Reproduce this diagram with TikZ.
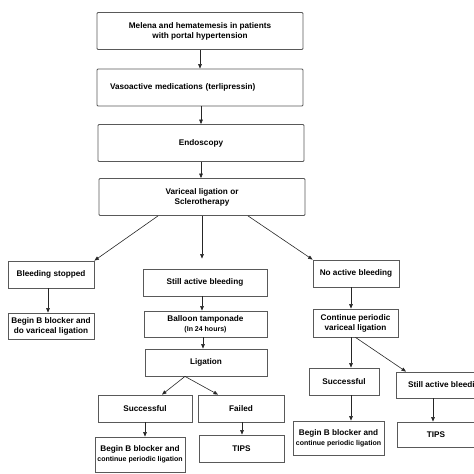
\documentclass[tikz,border=0pt]{standalone}
\usepackage{fontspec}
\setmainfont{Liberation Sans}
\usepackage{tikz}
\usetikzlibrary{arrows.meta}
\tikzset{
	MyBox/.style={draw=black!65,line width=0.8pt,rectangle,align=center,
    inner sep=1pt,font=\fontsize{8.2}{10}\selectfont\bfseries},
	MyBig/.style={MyBox,minimum width=206pt,minimum height=37pt,rounded corners=1pt},
	MyArrow/.style={draw=black!85,line width=0.6pt,-{Triangle[length=4.5pt,width=3.6pt]}}
		}
\def\MySmall{\fontsize{7}{8}\selectfont\bfseries}
\begin{document}
\begin{tikzpicture}[x=1pt,y=-1pt]
	\useasboundingbox (0,0) rectangle (474,474);
	% main column
	\node[MyBig] (Melena) at (200,31) {Melena and hematemesis in patients\\with portal hypertension};
	\node[MyBig,text width=180pt,align=left,inner xsep=13pt] (Vaso) at (200,87.5)
      {Vasoactive medications (terlipressin)};
	\node[MyBig] (Endo) at (201,143) {Endoscopy};
	\node[MyBig] (Varic) at (202,197) {Variceal ligation or\\Sclerotherapy};
	% left branch
	\node[MyBox,minimum width=86pt,minimum height=27pt] (Stop) at (51,274.5) {Bleeding stopped};
	\node[MyBox,minimum width=86pt,minimum height=26pt] (StopB) at (51,326)
      {Begin B blocker and\\do variceal ligation};
	% middle branch
	\node[MyBox,minimum width=124pt,minimum height=27pt] (Active) at (205,282.5) {Still active bleeding};
	\node[MyBox,minimum width=123pt,minimum height=26pt] (Balloon) at (205.5,324)
      {Balloon tamponade\\{\MySmall(In 24 hours)}};
	\node[MyBox,minimum width=122pt,minimum height=27pt] (Lig) at (206,362.5) {Ligation};
	\node[MyBox,minimum width=94pt,minimum height=27pt] (SuccL) at (145,408.5) {Successful};
	\node[MyBox,minimum width=86pt,minimum height=27pt] (Failed) at (241,408.5) {Failed};
	\node[MyBox,minimum width=90pt,minimum height=35pt] (BeginL) at (140,454.5)
      {Begin B blocker and\\{\MySmall continue periodic ligation}};
	\node[MyBox,minimum width=85pt,minimum height=27pt] (TipsL) at (241.5,448.5) {TIPS};
	% right branch
	\node[MyBox,minimum width=86pt,minimum height=27pt] (NoAct) at (356,273.5) {No active bleeding};
	\node[MyBox,minimum width=85pt,minimum height=28pt] (Cont) at (355.5,323)
      {Continue periodic\\variceal ligation};
	\node[MyBox,minimum width=70pt,minimum height=27pt] (SuccR) at (344,381.5) {Successful};
	\node[MyBox,anchor=west,minimum width=100pt,minimum height=26pt,inner xsep=2pt,
      align=left] (StillR) at (396,385) {Still active bleeding};
	\node[MyBox,minimum width=91pt,minimum height=34pt] (BeginR) at (338.5,438)
      {Begin B blocker and\\{\MySmall continue periodic ligation}};
	\node[MyBox,minimum width=78pt,minimum height=25pt] (TipsR) at (436,434.5) {TIPS};

	% arrows of the main column
	\draw[MyArrow] (Melena.south) -- (Vaso.north);
	\draw[MyArrow] ([xshift=1pt]Vaso.south) -- ([xshift=1pt]Vaso.south |- Endo.north);
	\draw[MyArrow] (Endo.south) -- (Endo.south |- Varic.north);
	\draw[MyArrow] ([xshift=-44pt]Varic.south) -- (Stop.north east);
	\draw[MyArrow,shorten >=10pt] (Varic.south) -- (Varic.south |- Active.north);
	\draw[MyArrow] ([xshift=46pt]Varic.south) -- (NoAct.north west);
	% left
	\draw[MyArrow] ([xshift=-3pt]Stop.south) -- ([xshift=-3pt]Stop.south |- StopB.north);
	% middle
	\draw[MyArrow] ([xshift=-3pt]Active.south) -- ([xshift=-3pt]Active.south |- Balloon.north);
	\draw[MyArrow] ([xshift=-2.5pt]Balloon.south) -- ([xshift=-2.5pt]Balloon.south |- Lig.north);
	\draw[MyArrow] ([xshift=-21pt]Lig.south) -- ([xshift=17pt]SuccL.north);
	\draw[MyArrow] ([xshift=-21pt]Lig.south) -- ([xshift=-23pt]Failed.north);
	\draw[MyArrow] (SuccL.south) -- (SuccL.south |- BeginL.north);
	\draw[MyArrow] ([xshift=1pt]Failed.south) -- ([xshift=1pt]Failed.south |- TipsL.north);
	% right
	\draw[MyArrow] ([xshift=-5pt]NoAct.south) -- ([xshift=-5pt]NoAct.south |- Cont.north);
	\draw[MyArrow] ([xshift=-4.5pt]Cont.south) -- ([xshift=-4.5pt]Cont.south |- SuccR.north);
	\draw[MyArrow] (Cont.south) -- ([xshift=10pt]StillR.north west);
	\draw[MyArrow] ([xshift=7pt]SuccR.south) -- ([xshift=7pt]SuccR.south |- BeginR.north);
	\draw[MyArrow] ([xshift=37pt]StillR.south west) -- ([xshift=37pt]StillR.south west |- TipsR.north);
\end{tikzpicture}
\end{document}
